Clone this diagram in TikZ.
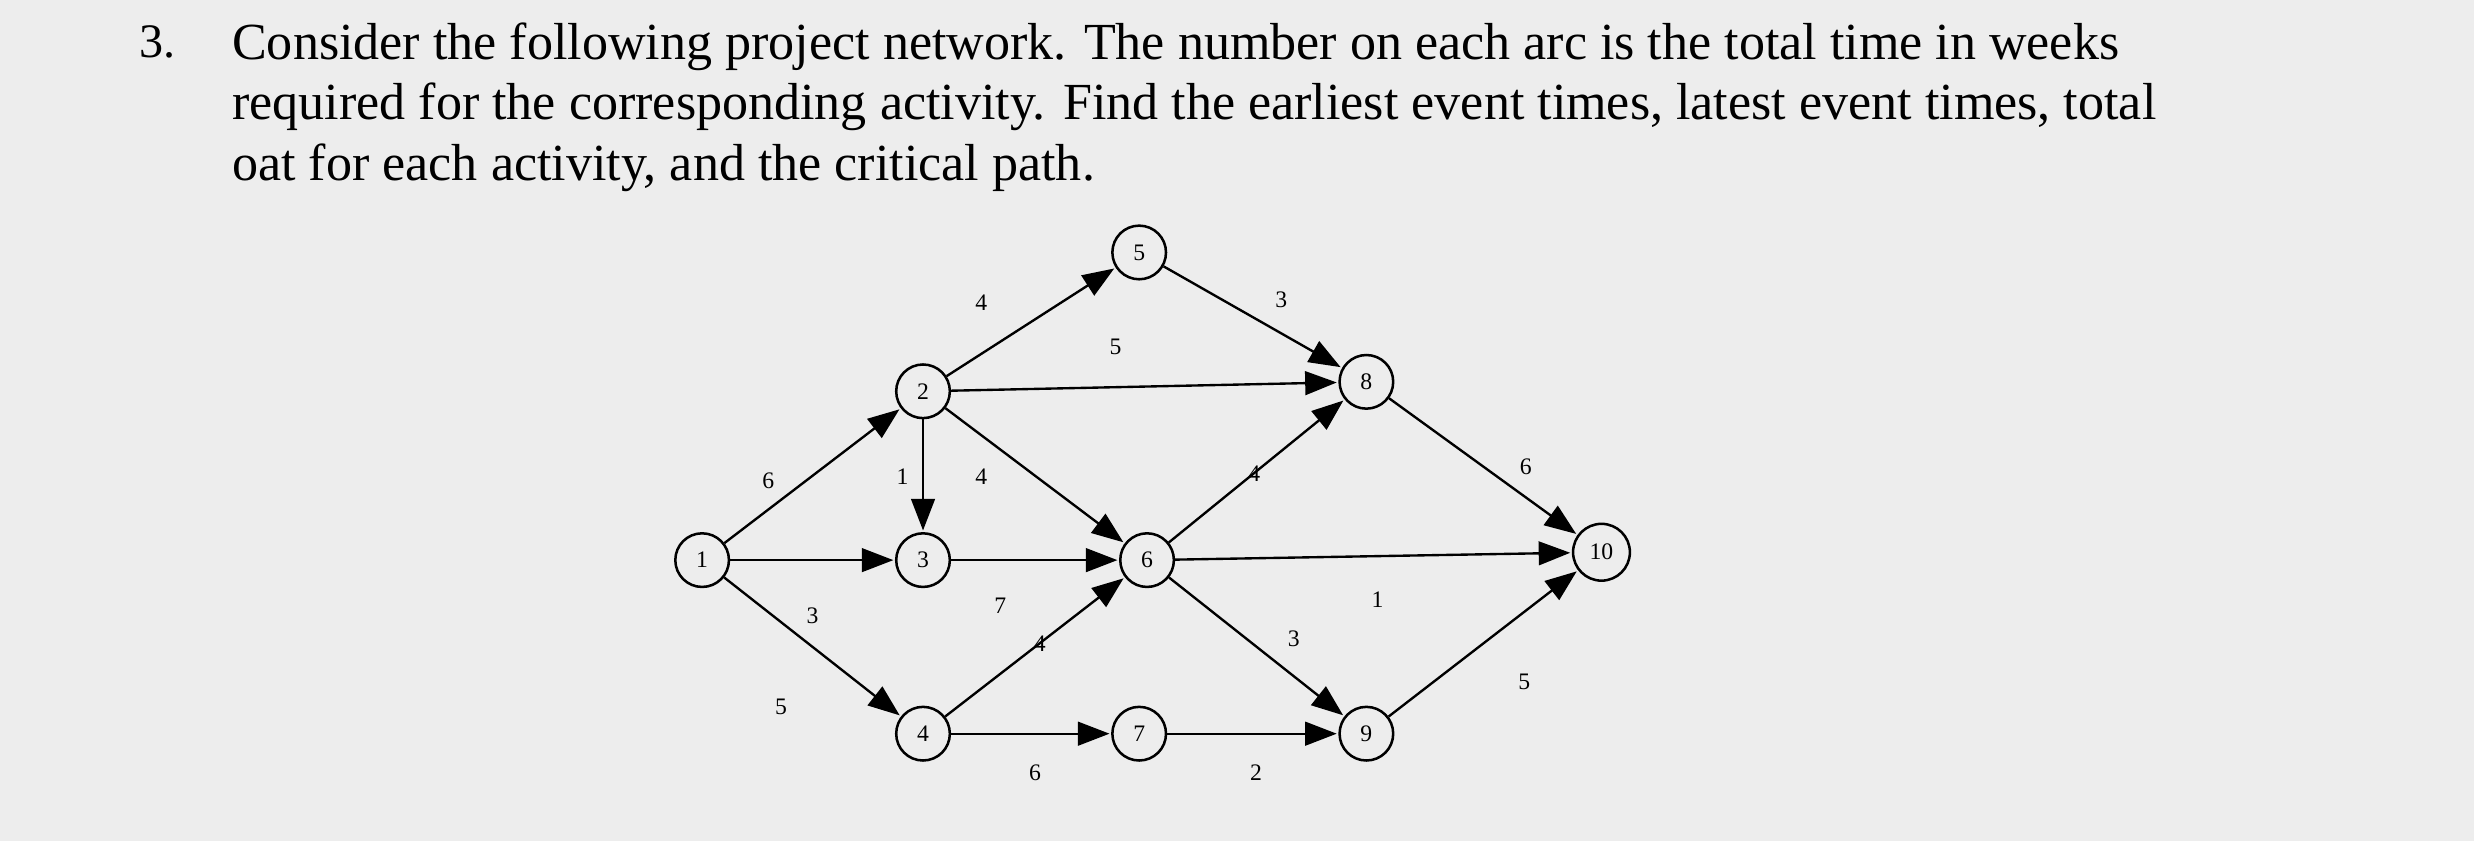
\documentclass[tikz,border=0pt]{standalone}
\usepackage{fontspec}
\setmainfont{Liberation Serif}
\usetikzlibrary{arrows.meta}
\begin{document}
\begin{tikzpicture}[x=1pt,y=-1pt,
  ev/.style={circle,draw,line width=1.6pt,minimum size=34pt,inner sep=0pt,font=\fontsize{15}{15}\selectfont},
  arc/.style={line width=1.5pt,-{Triangle[length=20pt,width=15pt]},shorten >=1pt},
  lab/.style={font=\fontsize{15}{15}\selectfont}]
\fill[gray!14] (0,0) rectangle (1568,533);
\useasboundingbox (0,0) rectangle (1568,533);
\node[anchor=north west,inner sep=0pt,font=\fontsize{30.5}{38}\selectfont] (q) at (88,16) {3.};
\node[anchor=north west,inner sep=0pt,align=left,font=\fontsize{33}{38.5}\selectfont] (t) at (147,14)
{Consider the following project network. The number on each arc is the total time in weeks\\
required for the corresponding activity. Find the earliest event times, latest event times, total\\
oat for each activity, and the critical path.};
\node[ev] (n1) at (445,355) {1};
\node[ev] (n2) at (585,248) {2};
\node[ev] (n3) at (585,355) {3};
\node[ev] (n4) at (585,465) {4};
\node[ev] (n5) at (722,160) {5};
\node[ev] (n6) at (727,355) {6};
\node[ev] (n7) at (722,465) {7};
\node[ev] (n8) at (866,242) {8};
\node[ev] (n9) at (866,465) {9};
\node[ev,minimum size=36pt] (n10) at (1015,350) {10};
\foreach \a/\b in {n1/n2,n1/n3,n1/n4,n2/n5,n2/n8,n2/n3,n2/n6,n3/n6,n4/n6,n4/n7,n5/n8,n6/n8,n6/n10,n6/n9,n7/n9,n8/n10,n9/n10}
  \draw[arc] (\a) -- (\b);
\node[lab] (l1) at (487,305) {6};
\node[lab] (l2) at (515,390) {3};
\node[lab] (l3) at (495,448) {5};
\node[lab] (l4) at (622,192) {4};
\node[lab] (l5) at (707,220) {5};
\node[lab] (l6) at (572,302) {1};
\node[lab] (l7) at (622,302) {4};
\node[lab] (l8) at (634,384) {7};
\node[lab] (l9) at (659,408) {4};
\node[lab] (l10) at (812,190) {3};
\node[lab] (l11) at (795,300) {4};
\node[lab] (l12) at (967,296) {6};
\node[lab] (l13) at (873,380) {1};
\node[lab] (l14) at (820,405) {3};
\node[lab] (l15) at (966,432) {5};
\node[lab] (l16) at (656,490) {6};
\node[lab] (l17) at (796,490) {2};
\end{tikzpicture}
\end{document}
